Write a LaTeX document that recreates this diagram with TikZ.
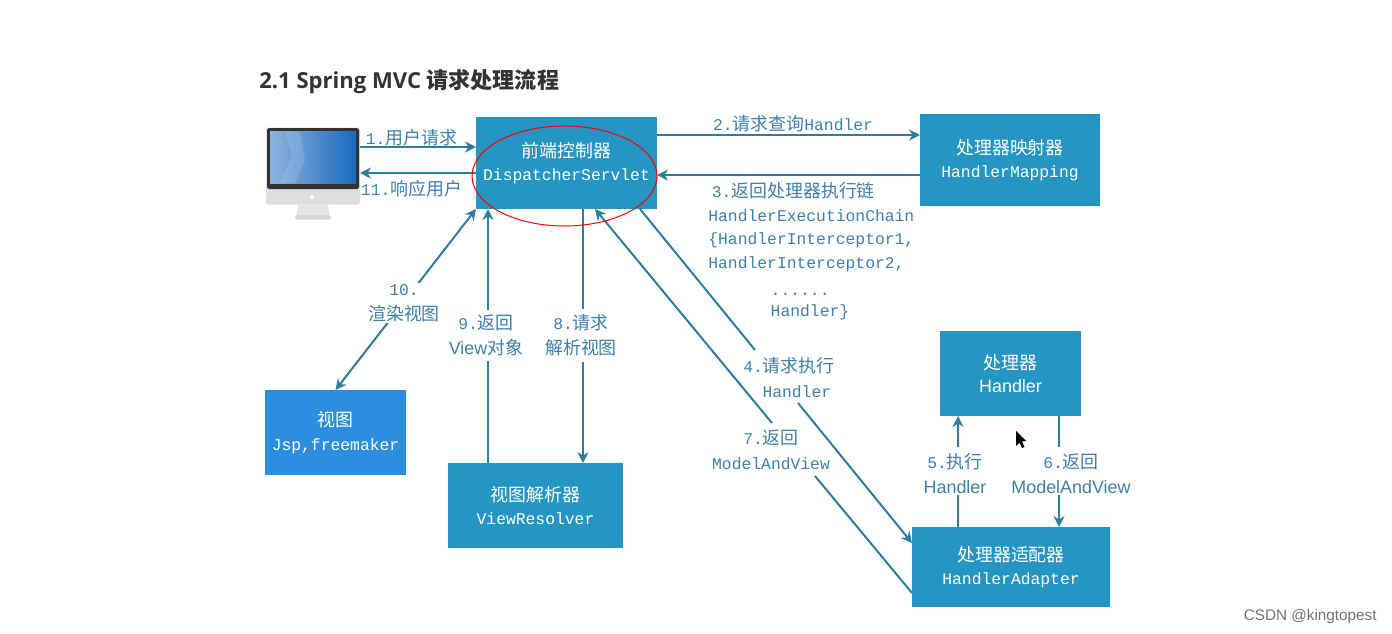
\documentclass[tikz,border=0pt]{standalone}
\usepackage{fontspec}
\setmainfont{Open Sans}
\setsansfont{Liberation Sans}
\setmonofont{Liberation Mono}
\newfontfamily\cjk{Noto Sans CJK SC}
\usepackage{tikz}
\usetikzlibrary{positioning, arrows.meta, shapes.geometric}
\usepackage{xcolor}
\definecolor{boxblue}{HTML}{2596C4}
\definecolor{viewblue}{HTML}{2B8EDE}
\definecolor{linkblue}{HTML}{2F7D9E}
\definecolor{textblue}{HTML}{3F7FAE}
\definecolor{screenl}{HTML}{8DB4DE}
\definecolor{screenr}{HTML}{1A68BE}
\newcommand{\zh}[1]{{\cjk\fontsize{10.2}{14.2}\selectfont #1}}
\newcommand{\en}[1]{{\sffamily\fontsize{10.2}{14.2}\selectfont #1}}

\begin{document}
\begin{tikzpicture}[x=0.2mm,y=-0.2mm,
    bx/.style={fill=boxblue,draw=none,inner sep=0pt,outer sep=0pt,align=center,text=white,font=\fontsize{9.3}{13.4}\selectfont\ttfamily},
    lbl/.style={text=textblue,align=center,inner sep=2pt,font=\fontsize{9.3}{14.2}\selectfont\ttfamily},
    lw/.style={lbl,fill=white},
    lnk/.style={draw=linkblue,line width=0.4mm,-{Stealth[length=2.2mm,width=2.2mm]}},
    lnkb/.style={lnk,{Stealth[length=2.2mm,width=2.2mm]}-{Stealth[length=2.2mm,width=2.2mm]}},
    pln/.style={draw=linkblue,line width=0.4mm}]
  \useasboundingbox (0,0) rectangle (1392,633);
  \node[anchor=west,inner sep=0pt,text=black!80,font=\fontsize{12.55}{14}\selectfont\bfseries](title) at (259,82){2.1 Spring MVC {\cjk 请求处理流程}};
  % boxes
  \node[bx,minimum width=36.2mm,minimum height=18.4mm](disp) at (566.5,163){\zh{前端控制器}\\DispatcherServlet};
  \node[bx,minimum width=36mm,minimum height=18.4mm](hmap) at (1010,160){\zh{处理器映射器}\\HandlerMapping};
  \node[bx,minimum width=28.2mm,minimum height=17mm](hdl) at (1010.5,373.5){\zh{处理器}\\\en{Handler}};
  \node[bx,minimum width=39.6mm,minimum height=16mm](hadp) at (1011,567){\zh{处理器适配器}\\HandlerAdapter};
  \node[bx,minimum width=35mm,minimum height=17mm](vres) at (535.5,505.5){\zh{视图解析器}\\ViewResolver};
  \node[bx,fill=viewblue,minimum width=28.2mm,minimum height=17mm](view) at (335.5,432.5){\zh{视图}\\Jsp,freemaker};
  % monitor
  \fill[black!10] (298,205) -- (328,205) -- (330,216) -- (296,216) -- cycle;
  \fill[black!16,rounded corners=1pt] (295,215) rectangle (331,219.5);
  \node[fill=black!13,rounded corners=1.5pt,inner sep=0pt,outer sep=0pt,minimum width=18.8mm,minimum height=15.4mm](mon) at (313,166){};
  \fill[black!80,rounded corners=1pt] (267,128) rectangle (359,189);
  \shade[left color=screenl,right color=screenr] (270,131.5) rectangle (356,183);
  \fill[white,opacity=0.12] (285,131.5) -- (300,131.5) -- (305,160) -- (295,183) -- (280,183) -- (292,155) -- cycle;
  \fill[white] (312,197) circle (2);
  % connectors
  \draw[lnk](mon.east |- 0,147)--(disp.west |- 0,147);
  \node[lbl](l1) at (411.5,138){1.\zh{用户请求}};
  \draw[lnk](disp.west |- 0,173)--(mon.east |- 0,173);
  \node[lbl](l11) at (411.5,189){11.\zh{响应用户}};
  \draw[lnk](disp.east |- 0,135)--(918,135 -| hmap.west);
  \node[lbl](l2) at (793,124){2.\zh{请求查询}Handler};
  \draw[lnk](hmap.west |- 0,175)--(disp.east |- 0,175);
  \node[lbl,anchor=north west,align=left,inner sep=0pt,font=\fontsize{9.3}{13.5}\selectfont\ttfamily](l3) at (708,182){\hspace*{2pt}3.\zh{返回处理器执行链}\\HandlerExecutionChain\\\{HandlerInterceptor1,\\HandlerInterceptor2,\\[1.8pt]\hspace*{35.5pt}......\\[-1.5pt]\hspace*{35.5pt}Handler\}};
  \draw[lnkb](view.north)--(disp.south west);
  \node[lw,inner sep=1pt](l10) at (404,303){10.\\\zh{渲染视图}};
  \draw[lnk](vres.north -| 488,0)--(disp.south -| 488,0);
  \node[lw,inner ysep=3pt](l9) at (486,335.5){9.\zh{返回}\\\en{View}\zh{对象}};
  \draw[lnk](disp.south -| 583,0)--(vres.north -| 583,0);
  \node[lw,inner ysep=3pt](l8) at (581,335.5){8.\zh{请求}\\\zh{解析视图}};
  % 4 and 7 run side by side, so they are broken by hand
  \coordinate (g4a) at (755,350);
  \coordinate (g4b) at (798,403);
  \coordinate (g7a) at (815,476);
  \coordinate (g7b) at (772,423);
  \draw[pln](disp.south -| 640,0)--(g4a);
  \draw[lnk](g4b)--(hadp.west |- 0,543);
  \node[lbl,align=right](l4) at (789,378){4.\zh{请求执行}\\Handler\hspace*{2pt}};
  \draw[pln](hadp.west |- 0,593)--(g7a);
  \draw[lnk](g7b)--(disp.south -| 595,0);
  \node[lbl](l7) at (771,450){7.\zh{返回}\\ModelAndView};
  \draw[lnk](hadp.north -| 958,0)--(hdl.south -| 958,0);
  \node[lw,inner sep=1pt](l5) at (955,471){\rule{0pt}{11.4pt}5.\zh{执行}\\\en{Handler}};
  \draw[lnk](hdl.south -| 1059,0)--(hadp.north -| 1059,0);
  \node[lw,inner sep=1pt](l6) at (1071,471){\rule{0pt}{11.4pt}6.\zh{返回}\\\en{ModelAndView}};
  % red mark
  \node[ellipse,draw=red,line width=0.2mm,inner sep=0pt,minimum width=37mm,minimum height=20mm](mark) at (564.5,176){};
  % pointer
  \fill[black] (1016,431) -- (1016,446) -- (1019.5,442.5) -- (1022,448) -- (1024.5,447) -- (1022,441.5) -- (1026,441) -- cycle;
  \node[anchor=east,inner sep=0pt,text=black!55,font=\sffamily\fontsize{8.7}{10}\selectfont](mark2) at (1377,617){CSDN @kingtopest};
\end{tikzpicture}
\end{document}
